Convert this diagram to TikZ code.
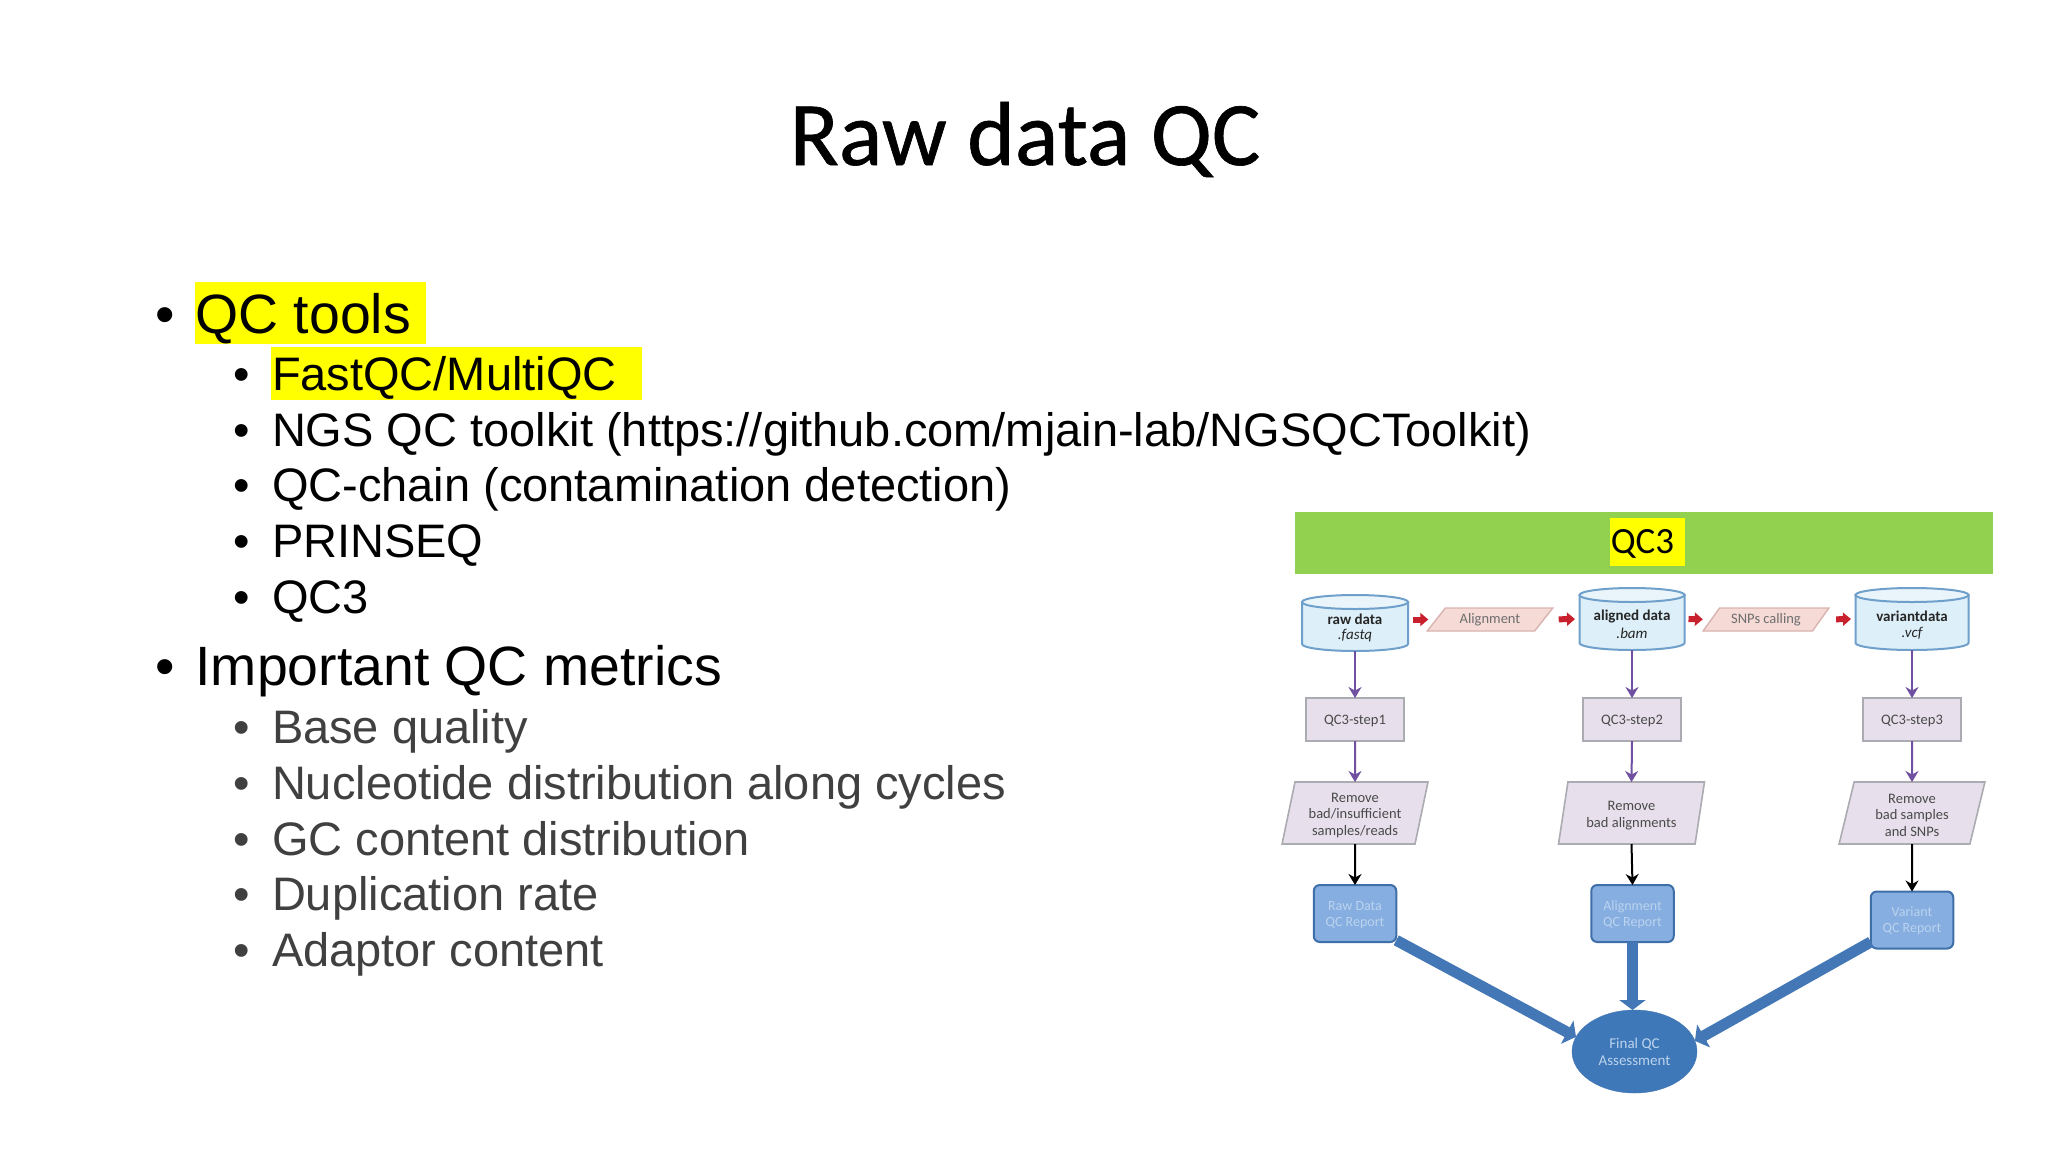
\documentclass[tikz,border=0pt]{standalone}
\usepackage{fontspec}
\setmainfont{Liberation Sans}
\newfontfamily\carl{Carlito}
\newfontfamily\carlt[FakeBold=0.7]{Carlito}
\usetikzlibrary{shapes.geometric,arrows.meta}
\definecolor{hl}{HTML}{FFFF00}
\definecolor{greenbar}{HTML}{92D050}
\definecolor{bodygrey}{HTML}{404040}
\definecolor{cylfill}{HTML}{DDEFF8}
\definecolor{cyltop}{HTML}{EAF5FB}
\definecolor{cylline}{HTML}{6F9FCB}
\definecolor{stepfill}{HTML}{E7E0EC}
\definecolor{stepline}{HTML}{ABABB2}
\definecolor{pinkfill}{HTML}{F5DAD6}
\definecolor{pinkline}{HTML}{D9B3AF}
\definecolor{purp}{HTML}{7050A0}
\definecolor{redarr}{HTML}{C9202E}
\definecolor{repfill}{HTML}{86AEE0}
\definecolor{repline}{HTML}{3F6FA8}
\definecolor{finalfill}{HTML}{3F78B8}
\definecolor{thickc}{HTML}{4377B5}
\definecolor{paletxt}{HTML}{BBD3EE}
\definecolor{flowtxt}{HTML}{4A4A4A}
\newcommand\dn[1]{\rule{0pt}{#1pt}}
\newcommand\cylshape[2]{%
  \draw[draw=cylline,fill=cylfill,line width=2pt]
    (#1.north west) ++(0,#2) -- ($(#1.south west)+(0,-#2)$)
    arc[start angle=180,end angle=360,x radius=0.5*\pgfkeysvalueof{/tmp/w}pt,y radius=#2 pt]
    -- ($(#1.north east)+(0,#2)$) -- cycle;
  \draw[draw=cylline,fill=cyltop,line width=2pt]
    ($(#1.north)+(0,#2)$) ellipse [x radius=0.5*\pgfkeysvalueof{/tmp/w}pt,y radius=#2 pt];}
\usetikzlibrary{calc}
\tikzset{
  every node/.style={inner sep=0pt,outer sep=0pt},
  ttlnode/.style={anchor=base,font=\carlt\fontsize{90.8}{90}\selectfont,text=black},
  lone/.style={anchor=base west,font=\fontsize{55.4}{55}\selectfont},
  ltwo/.style={anchor=base west,font=\fontsize{47}{47}\selectfont},
  flow/.style={font=\carl\fontsize{14.5}{16.6}\selectfont,text=flowtxt,align=center},
  flowb/.style={font=\carl\bfseries\fontsize{15}{17}\selectfont,text=black!85,align=center},
  flowi/.style={font=\carl\itshape\fontsize{15}{17}\selectfont,text=black!85,align=center},
  cylbox/.style={rectangle},
  stepbox/.style={draw=stepline,fill=stepfill,line width=1.6pt,minimum width=98pt,minimum height=43pt,flow},
  parabox/.style={shape=trapezium,trapezium stretches=true,draw=stepline,fill=stepfill,line width=1.6pt,
    trapezium left angle=78.6,trapezium right angle=101.4,minimum width=146pt,minimum height=62pt,flow},
  opbox/.style={shape=trapezium,trapezium stretches=true,draw=pinkline,fill=pinkfill,line width=1.4pt,
    trapezium left angle=47.6,trapezium right angle=132.4,minimum width=126pt,minimum height=23pt,flow,text=flowtxt!80},
  repbox/.style={draw=repline,fill=repfill,line width=2pt,rounded corners=6pt,minimum width=82.5pt,minimum height=57pt,
    font=\carl\fontsize{14}{16}\selectfont,text=paletxt,align=center},
  finbox/.style={shape=ellipse,draw=thickc,fill=finalfill,minimum width=125pt,minimum height=83pt,
    font=\carl\fontsize{15}{17}\selectfont,text=paletxt,align=center},
  parr/.style={draw=purp,line width=2pt,-{Stealth[length=11pt,width=13pt]}},
  karr/.style={draw=black,line width=2pt,-{Stealth[length=11pt,width=13pt]}},
  rarr/.style={draw=redarr,line width=6pt,-{Triangle[length=8pt,width=13pt]}},
  tarr/.style={draw=thickc,line width=11pt,-{Triangle[length=10pt,width=26pt]}},
}
\begin{document}
\begin{tikzpicture}[x=1pt,y=-1pt]
\useasboundingbox (0,0) rectangle (2048,1152);
\fill[white] (0,0) rectangle (2048,1152);
% title
\node[ttlnode] (ttl) at (1025,165) {Raw data QC};
% highlights
\fill[hl] (194.5,282) rectangle (425.7,344);
\fill[hl] (271,347) rectangle (642,400);
% list
\node[lone] (b1) at (155.5,333) {•};
\node[lone] (t1) at (195.5,333) {QC tools};
\node[ltwo] (b2) at (233,390) {•};
\node[ltwo] (t2) at (272,390) {FastQC/MultiQC};
\node[ltwo] (b3) at (233,446.5) {•};
\node[ltwo] (t3) at (272,446.5) {NGS QC toolkit (https://github.com/mjain-lab/NGSQCToolkit)};
\node[ltwo] (b4) at (233,501.5) {•};
\node[ltwo] (t4) at (272,501.5) {QC-chain (contamination detection)};
\node[ltwo] (b5) at (233,557.5) {•};
\node[ltwo] (t5) at (272,557.5) {PRINSEQ};
\node[ltwo] (b6) at (233,613) {•};
\node[ltwo] (t6) at (272,613) {QC3};
\node[lone] (b7) at (155.5,685) {•};
\node[lone] (t7) at (195.5,685) {Important QC metrics};
\node[ltwo,text=bodygrey] (b8) at (233,743.7) {•};
\node[ltwo,text=bodygrey] (t8) at (272,743.7) {Base quality};
\node[ltwo,text=bodygrey] (b9) at (233,799.4) {•};
\node[ltwo,text=bodygrey] (t9) at (272,799.4) {Nucleotide distribution along cycles};
\node[ltwo,text=bodygrey] (b10) at (233,855.1) {•};
\node[ltwo,text=bodygrey] (t10) at (272,855.1) {GC content distribution};
\node[ltwo,text=bodygrey] (b11) at (233,910.7) {•};
\node[ltwo,text=bodygrey] (t11) at (272,910.7) {Duplication rate};
\node[ltwo,text=bodygrey] (b12) at (233,966.4) {•};
\node[ltwo,text=bodygrey] (t12) at (272,966.4) {Adaptor content};
% header bar
\fill[greenbar] (1294.5,511.7) rectangle (1993,574);
\fill[hl] (1610,518) rectangle (1685,566);
\node[font=\carl\fontsize{37}{37}\selectfont,text=black] (qc) at (1642.5,544) {QC3};
% cylinders
\node[cylbox,minimum width=106pt,minimum height=56pt] (raw) at (1355,623) {};
\node[cylbox,minimum width=105pt,minimum height=62pt] (ali) at (1632,619) {};
\node[cylbox,minimum width=113pt,minimum height=62pt] (var) at (1912,619) {};
\pgfkeyssetvalue{/tmp/w}{106}\cylshape{raw}{7}
\pgfkeyssetvalue{/tmp/w}{105}\cylshape{ali}{7}
\pgfkeyssetvalue{/tmp/w}{113}\cylshape{var}{7}
\node[flowb] (rawa) at (1355,619) {raw data};
\node[flowi] (rawb) at (1355,636) {.fastq};
\node[flowb] (alia) at (1632,616) {aligned data};
\node[flowi] (alib) at (1632,633) {.bam};
\node[flowb] (vara) at (1912,616) {variantdata};
\node[flowi] (varb) at (1912,633) {.vcf};
% operations
\node[opbox] (op1) at (1490,619.5) {\dn{11}Alignment};
\node[opbox] (op2) at (1766,619.5) {\dn{11}SNPs calling};
% steps
\node[stepbox] (s1) at (1355,719.5) {\dn{12}QC3-step1};
\node[stepbox] (s2) at (1632,719.5) {\dn{12}QC3-step2};
\node[stepbox] (s3) at (1912,719.5) {\dn{12}QC3-step3};
% remove
\node[parabox] (p1) at (1355,813) {\dn{14}Remove\\bad/insufficient\\samples/reads};
\node[parabox] (p2) at (1631.5,813) {\dn{14}Remove\\bad alignments};
\node[parabox] (p3) at (1912,813) {\dn{14}Remove\\bad samples\\and SNPs};
% reports
\node[repbox] (r1) at (1355,913.5) {\dn{12}Raw Data\\QC Report};
\node[repbox] (r2) at (1632.5,913.5) {\dn{12}Alignment\\QC Report};
\node[repbox] (r3) at (1912,920) {\dn{12}Variant\\QC Report};
\node[finbox] (fin) at (1634.5,1051.5) {Final QC\\Assessment};
% connectors
\draw[rarr,shorten <=4.6pt,shorten >=8pt] (raw.east |- op1.west) -- (op1.west);
\draw[rarr,shorten <=15pt,shorten >=4.5pt] (op1.east) -- (ali.west);
\draw[rarr,shorten <=4pt,shorten >=8.5pt] (ali.east) -- (op2.west);
\draw[rarr,shorten <=15.5pt,shorten >=4.5pt] (op2.east) -- (var.west);
\foreach \a/\b in {raw/s1,ali/s2,var/s3,s1/p1,s2/p2,s3/p3}{\draw[parr] (\a.south) -- (\b.north);}
\foreach \a/\b in {p1/r1,p2/r2,p3/r3}{\draw[karr] (\a.south) -- (\b.north);}
\draw[tarr] (r1.-33) -- (fin.166);
\draw[tarr] (r2.south) -- (r2.south |- fin.north);
\draw[tarr] (r3.208) -- (fin.10);
\end{tikzpicture}
\end{document}
